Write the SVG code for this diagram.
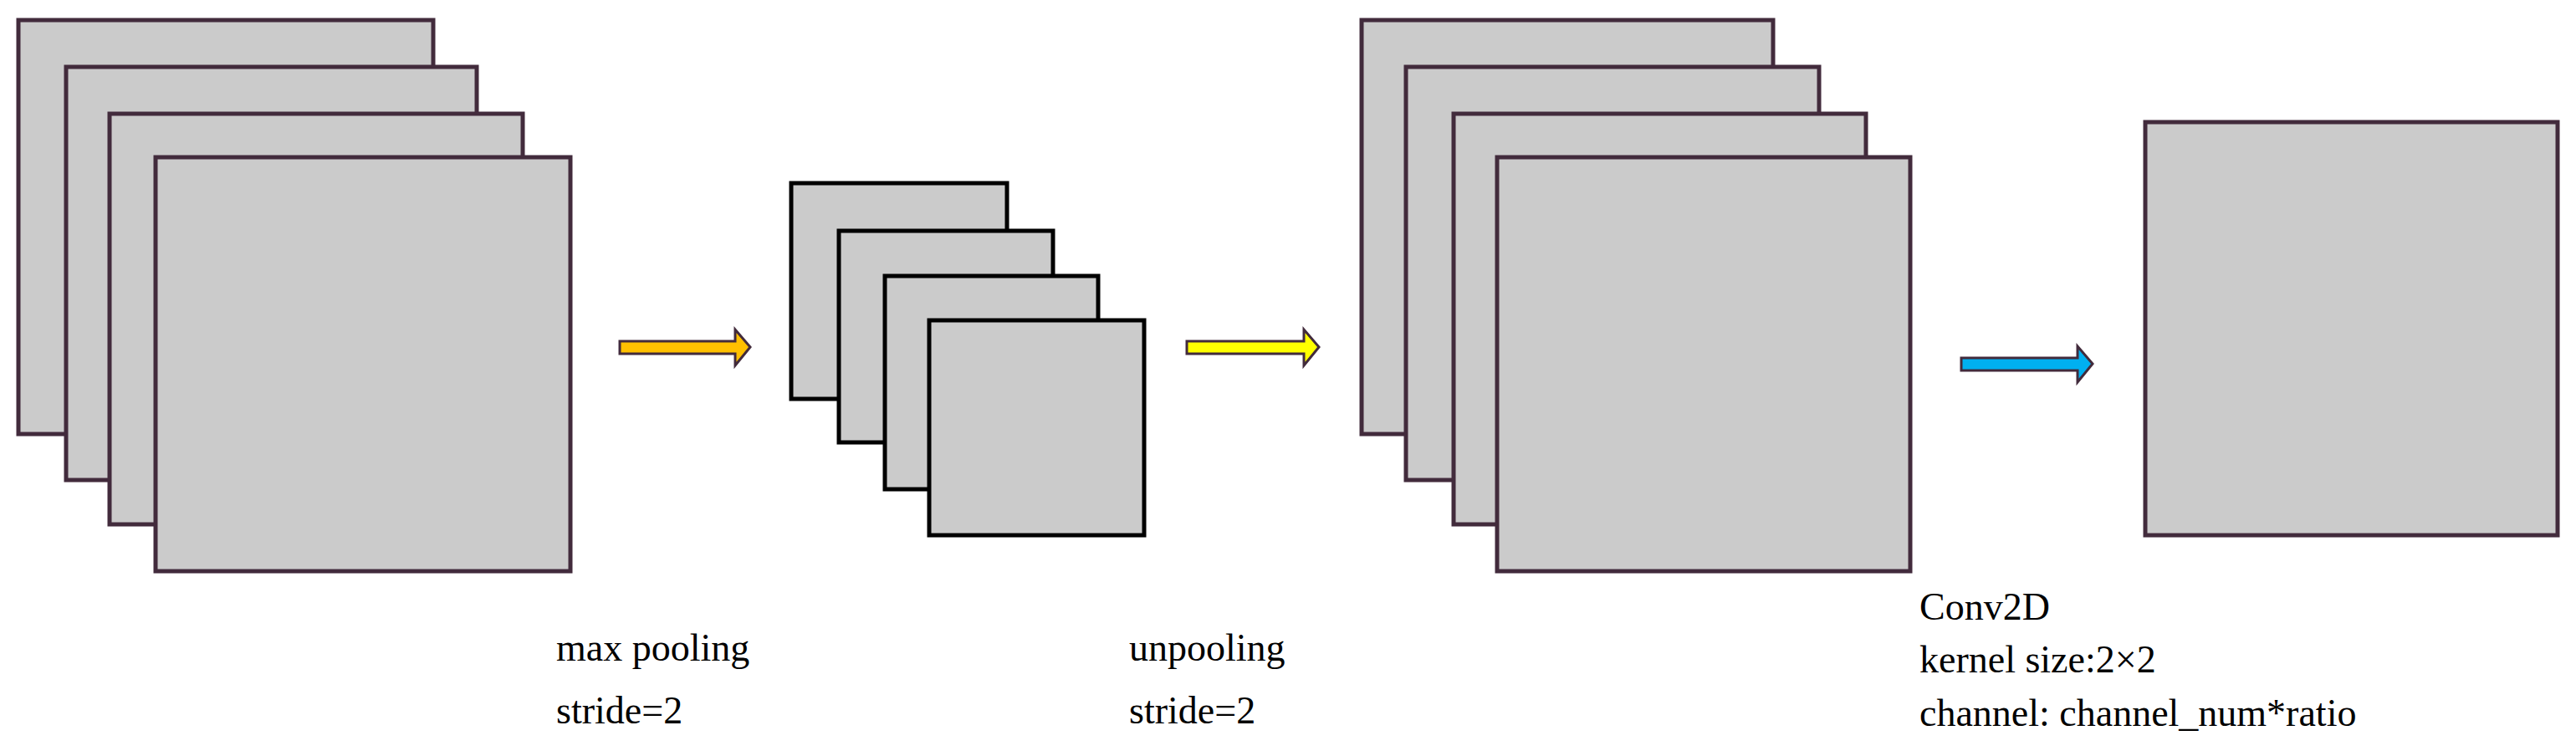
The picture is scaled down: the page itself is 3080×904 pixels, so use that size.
<svg xmlns="http://www.w3.org/2000/svg" width="3080" height="904" viewBox="0 0 3080 904">
<style>
.m{fill:#cbcbcb;stroke:#422b3c;stroke-width:5}
.b{fill:#cbcbcb;stroke:#000;stroke-width:5}
.ar{stroke:#422b3c;stroke-width:3}
text{font-family:"Liberation Serif",serif;font-size:46px;fill:#000}
</style>
<rect width="3080" height="904" fill="#fff"/>
<g id="input">
<rect class="m" x="22" y="24" width="496" height="495"/>
<rect class="m" x="79" y="80" width="491" height="494"/>
<rect class="m" x="131" y="136" width="494" height="491"/>
<rect class="m" x="186" y="188" width="496" height="495"/>
</g>
<g id="pooled">
<rect class="b" x="946" y="219" width="258" height="258"/>
<rect class="b" x="1003" y="276" width="256" height="253"/>
<rect class="b" x="1058" y="330" width="255" height="255"/>
<rect class="b" x="1111" y="383" width="257" height="257"/>
</g>
<g id="unpooled">
<rect class="m" x="1628" y="24" width="492" height="495"/>
<rect class="m" x="1681" y="80" width="494" height="494"/>
<rect class="m" x="1738" y="136" width="493" height="491"/>
<rect class="m" x="1790" y="188" width="494" height="495"/>
</g>
<g id="output">
<rect class="m" x="2565" y="146" width="493" height="494"/>
</g>
<g id="connectors">
<path class="ar" fill="#ffc000" d="M741,408 H879 V394 L897,415 L879,437 V423 H741 Z"/>
<path class="ar" fill="#ffff00" d="M1419,408 H1559 V394 L1577,415 L1559,437 V423 H1419 Z"/>
<path class="ar" fill="#00b0f0" d="M2345,428 H2484 V414 L2502,435 L2484,457 V443 H2345 Z"/>
</g>
<g id="labels">
<text x="665" y="790">max pooling</text>
<text x="665" y="865">stride=2</text>
<text x="1350" y="790">unpooling</text>
<text x="1350" y="865">stride=2</text>
<text x="2295" y="741">Conv2D</text>
<text x="2295" y="804">kernel size:2×2</text>
<text x="2295" y="868">channel: channel_num*ratio</text>
</g>
</svg>
